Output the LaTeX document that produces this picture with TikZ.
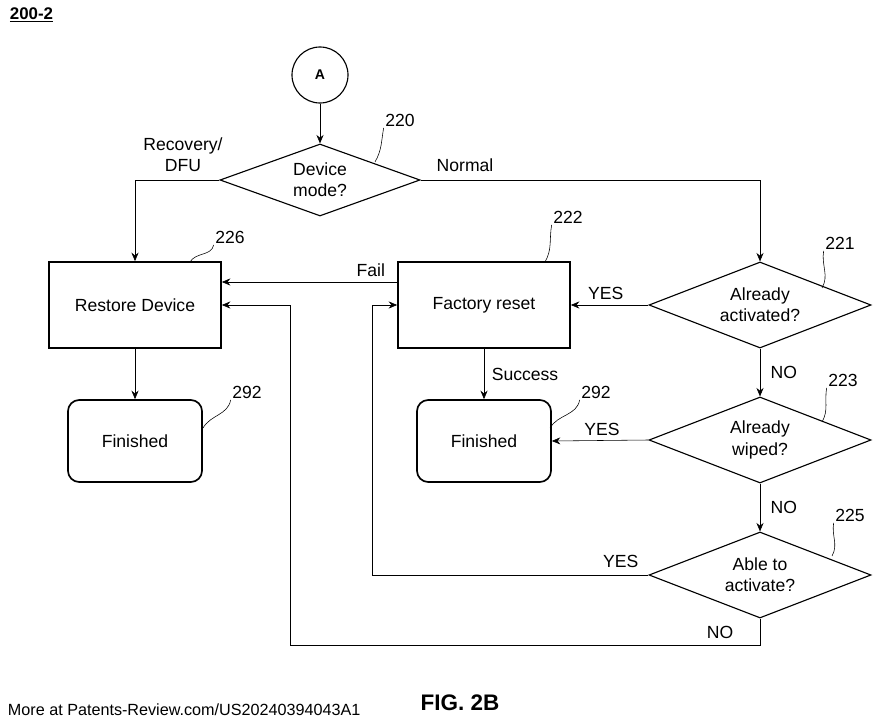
\documentclass[tikz,border=0pt]{standalone}
\usepackage{fontspec}
\setmainfont{Liberation Sans}
\usetikzlibrary{shapes.geometric,arrows.meta}
\tikzset{
    CC/.style ={circle,minimum size=1.4cm,draw,thick,font=\bfseries},
    RA/.style ={rectangle,minimum width=4.3cm,minimum height=2.15cm,draw,very thick},
    RR/.style ={rectangle,rounded corners=8pt,minimum width=3.35cm,minimum height=2.05cm,draw,very thick},
    DI/.style ={diamond,aspect=2.6,inner sep=-5pt,minimum width=5.55cm,minimum height=2.15cm,draw,thick,align=center},
    LB/.style ={inner sep=1pt},
    AR/.style ={-{Stealth[length=6pt,width=5pt]}},
    SU/.style ={out=-100,in=60}}
\begin{document}
\begin{tikzpicture}[x=0.025cm,y=-0.025cm,font=\fontsize{12.5}{15}\selectfont]
        \useasboundingbox (0,0) rectangle (880,727);
        \node[anchor=west,font=\fontsize{12}{14}\selectfont\bfseries] (t) at (5,15){\underline{200-2}};
        \node[CC] (A) at (320,75){A};
        \node[DI,aspect=2.9,inner sep=-7pt,minimum width=5cm,minimum height=1.8cm] (220) at (320,180){Device\\mode?};
        \node[RA] (226) at (135,305){Restore Device};
        \node[RA] (222) at (484,305){Factory reset};
        \node[DI] (221) at (760,305){Already\\activated?};
        \node[DI] (223) at (760,440){Already\\wiped?};
        \node[DI] (225) at (760,575){Able to\\activate?};
        \node[RR] (292a) at (135,441){Finished};
        \node[RR] (292b) at (484,441){Finished};
        % reference numbers
        \node[LB] (l220) at (400,120){220};
        \node[LB] (l226) at (230,237){226};
        \node[LB] (l222) at (568,217){222};
        \node[LB] (l221) at (840,243){221};
        \node[LB] (l223) at (843,380){223};
        \node[LB] (l225) at (850,515){225};
        \node[LB] (l292a) at (247,392){292};
        \node[LB] (l292b) at (596,392){292};
        \draw (l220.south west) to[SU] (375,162);
        \draw (l226.south west) to[SU] (190,262);
        \draw (l222.south west) to[SU] (545,262);
        \draw (l221.south west) to[SU] (822,288);
        \draw (l223.south west) to[SU] (822,422);
        \draw (l225.south west) to[SU] (832,556);
        \draw (l292a.south west) to[SU] (203,428);
        \draw (l292b.south west) to[SU] (550,428);
        % flow
        \draw[AR] (A) -- (220);
        \draw[AR] (220.west) -| (226.north);
        \node[align=center] (rec) at (183,155){Recovery/\\DFU};
        \draw[AR] (220.east) -| (221.north);
        \node (nor) at (465,165){Normal};
        \draw[AR] (221.west) -- (222.east) node[pos=0.55,above]{YES};
        \draw[AR] (221.south) -- (223.north) node[midway,right=4pt]{NO};
        \draw[AR] (223.west) -- (292b.east) node[pos=0.48,above]{YES};
        \draw[AR] (223.south) -- (225.north) node[midway,right=4pt]{NO};
        \draw[AR] (222.west|-0,282) -- (226.east|-0,282) node[pos=0.15,above]{Fail};
        \draw[AR] (222.south) -- (292b.north) node[midway,right=2pt]{Success};
        \draw[AR] (226.south) -- (292a.north);
        \draw[AR] (225.west) -- (372,575) node[pos=0.1,above=2pt]{YES} |- (222.west);
        \draw[AR] (225.south) -- (760,645) -| (290,305) -- (226.east);
        \node (no) at (720,632){NO};
        \node[font=\fontsize{16}{18}\selectfont\bfseries] (fig) at (460,703){FIG. 2B};
        \node[anchor=west,font=\fontsize{11.5}{14}\selectfont] (more) at (3,710){More at Patents-Review.com/US20240394043A1};
\end{tikzpicture}
\end{document}
